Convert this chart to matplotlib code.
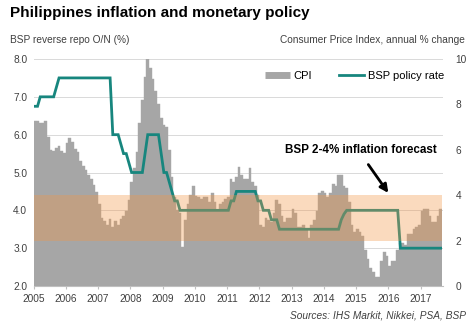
import numpy as np
import pandas as pd
import matplotlib
matplotlib.use('Agg')
import matplotlib.pyplot as plt
from matplotlib.lines import Line2D

plt.rcParams['font.family'] = 'Liberation Sans'

# Consumer Price Index, annual % change (monthly)
cpi_2005 = [7.25, 7.25, 7.2, 7.2, 7.25, 6.55, 6.0, 5.95, 6.1, 6.15, 5.95, 5.85]
cpi_2006 = [6.3, 6.5, 6.35, 6.05, 5.9, 5.5, 5.3, 5.1, 4.9, 4.7, 4.45, 4.15]
cpi_2007 = [3.6, 3.0, 2.85, 2.7, 2.95, 2.6, 2.85, 2.7, 2.95, 3.1, 3.3, 3.8]
cpi_2008 = [4.6, 5.2, 5.9, 7.2, 8.2, 9.2, 10.4, 9.6, 9.1, 8.6, 8.0, 7.4]
cpi_2009 = [7.1, 7.0, 6.0, 4.8, 3.9, 3.35, 3.2, 1.7, 2.9, 3.6, 4.0, 4.4]
cpi_2010 = [3.95, 3.9, 3.85, 3.9, 3.9, 3.7, 4.1, 3.7, 3.3, 3.6, 3.7, 3.85]
cpi_2011 = [3.9, 4.7, 4.6, 4.8, 5.25, 4.9, 4.7, 4.7, 5.2, 4.6, 4.4, 4.0]
cpi_2012 = [2.7, 2.6, 3.0, 2.9, 2.8, 3.2, 3.8, 3.6, 3.1, 2.8, 3.0, 3.0]
cpi_2013 = [3.4, 3.2, 2.6, 2.6, 2.7, 2.5, 2.1, 2.7, 2.9, 3.3, 4.1, 4.2]
cpi_2014 = [4.1, 3.9, 4.1, 4.5, 4.4, 4.9, 4.9, 4.4, 4.3, 3.7, 2.7, 2.4]
cpi_2015 = [2.5, 2.4, 2.2, 1.6, 1.2, 0.8, 0.6, 0.4, 0.4, 1.1, 1.5, 1.3]
cpi_2016 = [0.9, 1.1, 1.1, 1.6, 1.9, 1.9, 1.8, 2.3, 2.3, 2.5, 2.6, 2.7]
cpi_2017 = [3.3, 3.4, 3.4, 3.1, 2.8, 2.8, 3.1, 3.4]

# BSP overnight reverse repo rate, %
rate_2005 = [6.75, 6.75, 7.0, 7.0, 7.0, 7.0, 7.0, 7.0, 7.25, 7.5, 7.5, 7.5]
rate_2006 = [7.5] * 12
rate_2007 = [7.5, 7.5, 7.5, 7.5, 7.5, 6.0, 6.0, 6.0, 5.75, 5.5, 5.5, 5.25]
rate_2008 = [5.0, 5.0, 5.0, 5.0, 5.0, 5.5, 6.0, 6.0, 6.0, 6.0, 6.0, 5.5]
rate_2009 = [5.0, 5.0, 4.75, 4.5, 4.25, 4.25, 4.0, 4.0, 4.0, 4.0, 4.0, 4.0]
rate_2010 = [4.0] * 12
rate_2011 = [4.0, 4.25, 4.25, 4.5, 4.5, 4.5, 4.5, 4.5, 4.5, 4.5, 4.5, 4.25]
rate_2012 = [4.25, 4.0, 4.0, 4.0, 3.75, 3.75, 3.75, 3.5, 3.5, 3.5, 3.5, 3.5]
rate_2013 = [3.5] * 12
rate_2014 = [3.5, 3.5, 3.5, 3.5, 3.5, 3.5, 3.75, 3.9, 4.0, 4.0, 4.0, 4.0]
rate_2015 = [4.0] * 12
rate_2016 = [4.0, 4.0, 4.0, 4.0, 3.0, 3.0, 3.0, 3.0, 3.0, 3.0, 3.0, 3.0]
rate_2017 = [3.0] * 8

target_low, target_high = 2, 4

cpi = np.concatenate([cpi_2005, cpi_2006, cpi_2007, cpi_2008, cpi_2009, cpi_2010, cpi_2011,
                      cpi_2012, cpi_2013, cpi_2014, cpi_2015, cpi_2016, cpi_2017])
rate = np.concatenate([rate_2005, rate_2006, rate_2007, rate_2008, rate_2009, rate_2010, rate_2011,
                       rate_2012, rate_2013, rate_2014, rate_2015, rate_2016, rate_2017])

months = pd.date_range('2005-01-01', periods=len(cpi), freq='MS')
t = months.year + (months.month - 1) / 12

GREY = '#a6a6a6'
TEAL = '#17867e'
ORANGE = '#f19545'
TXT = '#404040'

fig = plt.figure(figsize=(4.74, 3.25), dpi=100)
ax = fig.add_axes([33.5 / 474, 39 / 325, 409 / 474, 227 / 325])

# left axis: policy rate scale, carries the gridlines
ax.set_xlim(2005, 2017.68)
ax.set_ylim(2, 8)
ax.set_yticks(np.arange(2, 8.5, 1))
ax.yaxis.set_major_formatter('{x:.1f}')
ax.set_xticks(range(2005, 2018))
ax.grid(axis='y', color='#d9d9d9', lw=0.7)
ax.set_axisbelow(True)
for s in ['top', 'right', 'left']:
    ax.spines[s].set_visible(False)
ax.spines['bottom'].set_color('#bfbfbf')
ax.tick_params(axis='y', length=0, pad=4.5, labelsize=7.3, labelcolor=TXT)
ax.tick_params(axis='x', length=2.5, color='#bfbfbf', pad=3, labelsize=7.3, labelcolor=TXT)

# right axis: CPI bars, policy line and target band drawn in this order
axc = ax.twinx()
axc.set_ylim(0, 10)
axc.set_yticks(range(0, 11, 2))
for s in axc.spines.values():
    s.set_visible(False)
axc.tick_params(axis='y', length=0, pad=9.5, labelsize=7.3, labelcolor=TXT)

axc.bar(t, cpi, width=1 / 12, align='edge', color=GREY, edgecolor=GREY, lw=0.3, zorder=1)
axc.plot(t + 1 / 24, rate, color=TEAL, lw=2.0, transform=ax.transData, zorder=2,
         solid_joinstyle='miter')
axc.axhspan(target_low, target_high, color=ORANGE, alpha=0.35, lw=0, zorder=3)
axc.set_ylim(0, 10)

handles = [Line2D([], [], color=GREY, lw=5, solid_capstyle='butt'),
           Line2D([], [], color=TEAL, lw=2.0)]
fig.legend(handles, ['CPI', 'BSP policy rate'], loc='upper right',
           bbox_to_anchor=(444 / 474, 1 - 71 / 325), ncol=2, frameon=False,
           fontsize=8, handlelength=2.3, handletextpad=0.3, columnspacing=2.4,
           borderpad=0, borderaxespad=0)

axc.text(2015.15, 6.0, 'BSP 2-4% inflation forecast', ha='center', va='center',
         fontsize=8.4, fontweight='bold', color='black', zorder=5)
axc.annotate('', xy=(2016.0, 4.1), xytext=(2015.38, 5.35),
             arrowprops=dict(arrowstyle='-|>', color='black', lw=2.0, mutation_scale=12,
                             shrinkA=0, shrinkB=0), zorder=5)

fig.text(10 / 474, 1 - 13.5 / 325, 'Philippines inflation and monetary policy',
         fontsize=11, fontweight='bold', va='center', ha='left', color='black')
fig.text(10 / 474, 1 - 40 / 325, 'BSP reverse repo O/N (%)', fontsize=7.3,
         va='center', ha='left', color=TXT)
fig.text(465 / 474, 1 - 40 / 325, 'Consumer Price Index, annual % change', fontsize=7.3,
         va='center', ha='right', color=TXT)
fig.text(466 / 474, 1 - 316 / 325, 'Sources: IHS Markit, Nikkei, PSA, BSP', fontsize=7.3,
         va='center', ha='right', color=TXT, style='italic')

fig.savefig('out.png', dpi=100)
